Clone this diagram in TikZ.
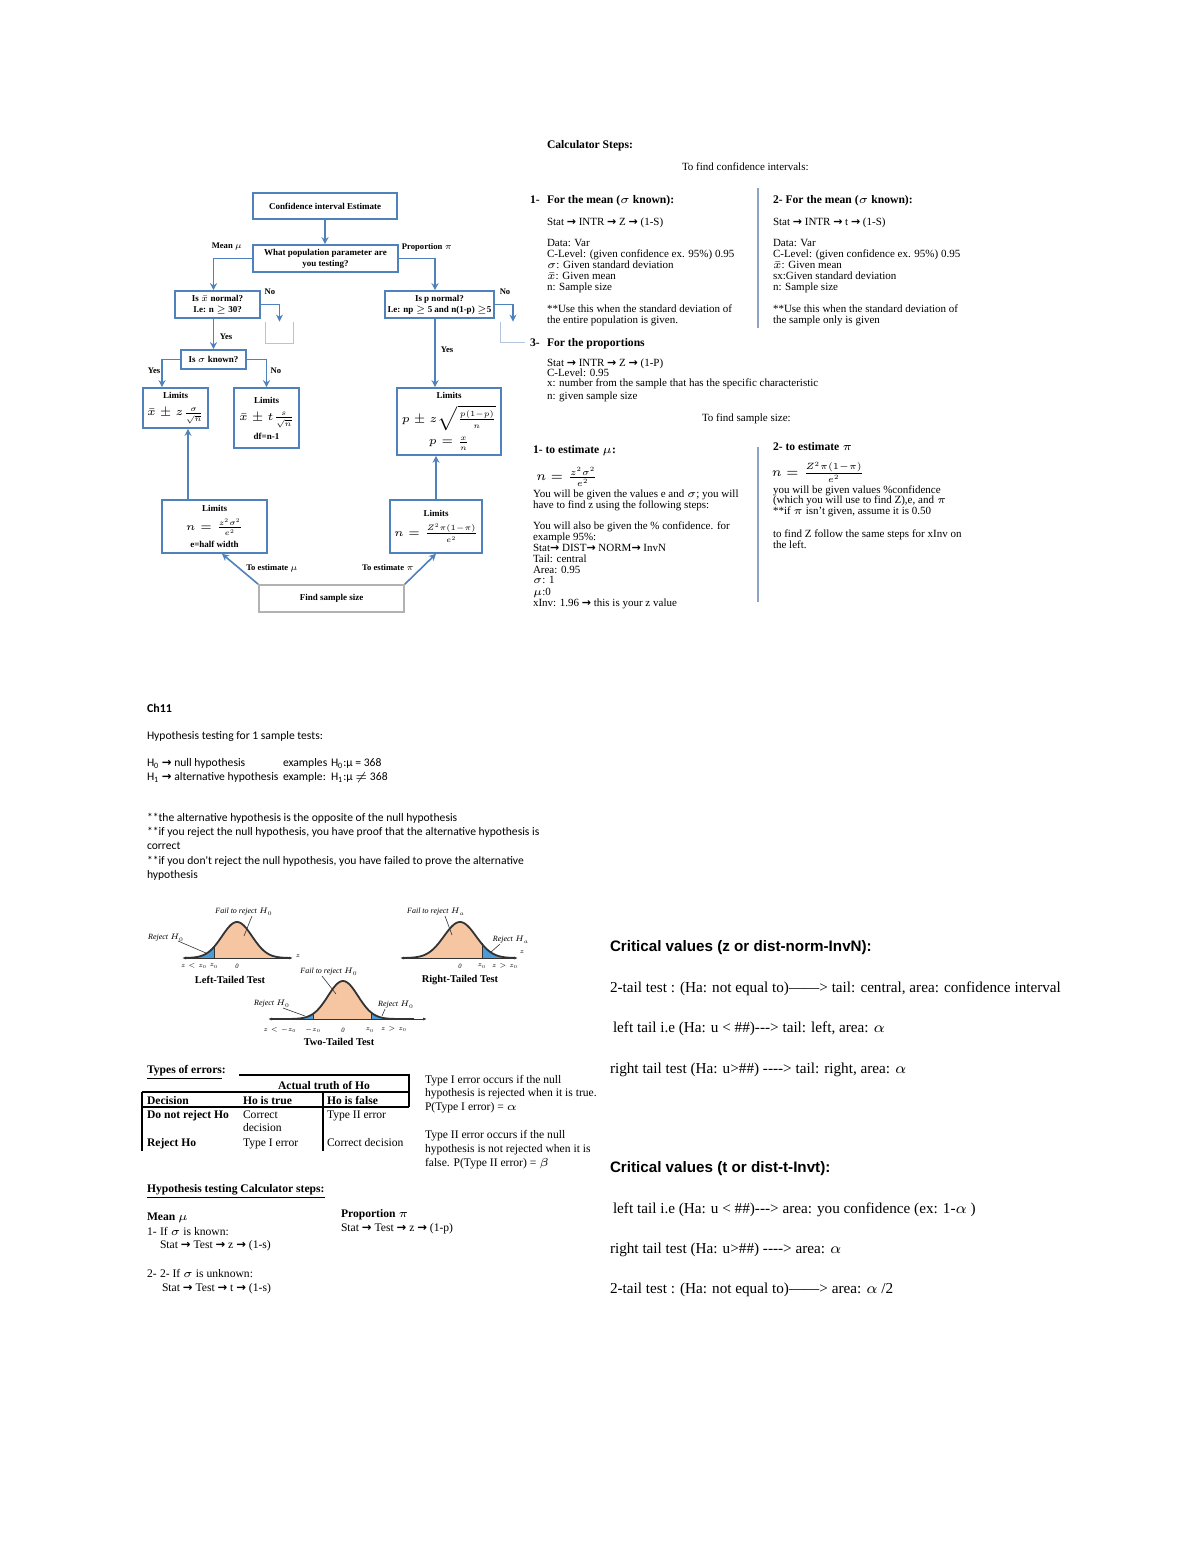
\RequirePackage{fix-cm}
\documentclass[tikz,border=0pt]{standalone}
\usepackage{fontspec}
\setmainfont{Liberation Serif}
\newfontfamily\calibf{Carlito}
\newfontfamily\arialf{Liberation Sans}
\newfontfamily\djvf{DejaVu Sans}
\usetikzlibrary{arrows.meta,calc}
\definecolor{boxblue}{HTML}{4F81BD}
\definecolor{divblue}{HTML}{8DA4C6}
\definecolor{lightbox}{HTML}{B3C5DD}
\definecolor{peach}{HTML}{F6C6A3}
\definecolor{tailblue}{HTML}{4C9BD6}
\definecolor{curvecol}{HTML}{333333}
\newcommand\myfs[2]{\fontsize{#1}{#2}\selectfont}
\newcommand\myra{{\djvf\bfseries →}}
\newcommand\bm[1]{{\myfs{5.6}{6}$#1$}}
\newcounter{lnc}
\newcommand\txtline[4][]{\stepcounter{lnc}\node[tl,#1] (t\arabic{lnc}) at (#2,#3) {#4};}
\tikzset{
  tl/.style={anchor=base west, inner sep=0, outer sep=0},
  cs/.style={font=\myfs{5.5}{6.5}},
  csb/.style={font=\bfseries\myfs{5.8}{6.5}},
  cal/.style={font=\calibf\myfs{5.8}{6.5}},
  calb/.style={font=\calibf\bfseries\myfs{6}{6.5}},
  crit/.style={font=\myfs{7.6}{9}},
  crith/.style={font=\arialf\bfseries\myfs{7.6}{9}},
  bell/.style={font=\itshape\myfs{4}{5}, inner sep=0},
  bella/.style={font=\itshape\myfs{3.3}{4}, inner sep=0},
  bellt/.style={font=\bfseries\myfs{5.2}{6}, inner sep=0},
  fbox/.style={draw=boxblue, line width=0.8pt, inner sep=0, align=center, font=\bfseries\myfs{4.5}{5.6}},
  arr/.style={draw=boxblue, line width=0.8pt, -{Stealth[length=3.5pt,width=3.5pt]}},
  flab/.style={font=\bfseries\myfs{4.3}{5}, inner sep=0},
  tab/.style={font=\myfs{5.8}{6.5}},
  tabb/.style={font=\bfseries\myfs{5.8}{6.5}},
}
\begin{document}
\begin{tikzpicture}[x=0.5pt,y=-0.5pt]
\useasboundingbox (0,0) rectangle (1200,1553);
\fill[white] (0,0) rectangle (1200,1553);

% ---------------- Flowchart ----------------
\node[fbox, minimum width=72pt, minimum height=13pt] (ci) at (325,206) {Confidence interval Estimate};
\node[fbox, minimum width=72.5pt, minimum height=13.5pt] (wp) at (325.5,258.5) {What population parameter are\\you testing?};
\node[fbox, minimum width=42.5pt, minimum height=13.5pt] (isx) at (217.5,304.5) {Is $\bar{x}$ normal?\\I.e: n $\geq$ 30?};
\node[fbox, minimum width=54.5pt, minimum height=13.5pt] (isp) at (439.5,304.5) {Is p normal?\\I.e: np $\geq$ 5 and n(1-p) $\geq$5};
\node[minimum width=13.5pt, minimum height=10.5pt, inner sep=0] (sb1) at (279.5,332.5) {};
\node[minimum width=12pt, minimum height=10pt, inner sep=0] (sb2) at (513,332) {};
\draw[lightbox, line width=0.8pt] (sb1.north west) -- (sb1.south west) -- (sb1.south east) -- (sb1.north east);
\draw[lightbox, line width=0.8pt] (sb2.north west) -- (sb2.south west) -- (sb2.south east);
\node[fbox, minimum width=32.5pt, minimum height=9.5pt] (isk) at (213.5,359.5) {Is $\sigma$ known?};
\node[fbox, minimum width=32.5pt, minimum height=20pt] (L1) at (175.5,408) {Limits\\[3pt]\bm{\bar{x}\pm z\frac{\sigma}{\sqrt{n}}}};
\node[fbox, minimum width=32.5pt, minimum height=30pt] (L2) at (266.5,418) {Limits\\[3pt]\bm{\bar{x}\pm t\frac{s}{\sqrt{n}}}\\[1.5pt]df=n-1};
\node[fbox, minimum width=52pt, minimum height=33.5pt] (L3) at (449,421.5) {Limits\\[2.5pt]\bm{p\pm z\sqrt{\frac{p(1-p)}{n}}}\\[2.5pt]\bm{p=\frac{x}{n}}};
\node[fbox, minimum width=52.5pt, minimum height=26.5pt] (LB1) at (214.5,526.5) {Limits\\[2.5pt]\bm{n=\frac{z^2\sigma^2}{e^2}}\\[1.5pt]e=half width};
\node[fbox, minimum width=46pt, minimum height=26.5pt] (LB2) at (436,526.5) {Limits\\[2.5pt]\bm{n=\frac{Z^2\pi(1-\pi)}{e^2}}};
\node[fbox, draw=gray!60, minimum width=72.5pt, minimum height=13.5pt] (fs) at (331.5,598.5) {Find sample size};

\coordinate (rx) at ($(L3.north)+(-14,0)$);
\coordinate (lx) at ($(L1.north)+(-13.5,0)$);
\coordinate (lxb) at ($(L1.south)+(12.5,0)$);
\draw[arr] (ci.south) -- (ci.south |- wp.north);
\draw[arr] (wp.west) -| (isk.north |- isx.north);
\draw[arr] (wp.east) -| (rx |- isp.north);
\draw[arr] (isx.east) -| (sb1.north);
\draw[arr] (isp.east) -| (sb2.north);
\draw[arr] (isx.south -| isk.north) -- (isk.north);
\draw[arr] (isk.west) -| (lx |- L1.north);
\draw[arr] (isk.east) -| (L2.north);
\draw[arr] (rx |- isp.south) -- (rx |- L3.north);
\draw[arr] (lxb |- LB1.north) -- (lxb |- L1.south);
\draw[arr] (LB2.north) -- (LB2.north |- L3.south);
\draw[arr] (fs.north west) -- ($(LB1.south)+(7.5,0)$);
\draw[arr] (fs.north east) -- (LB2.south);

\node[flab] (lmean) at (227,247) {Mean $\mu$};
\node[flab] (lprop) at (427,247) {Proportion $\pi$};
\node[flab] (lno1) at (270,292) {No};
\node[flab] (lno2) at (505,292) {No};
\node[flab] (lyes1) at (226,337) {Yes};
\node[flab] (lyes2) at (154,371) {Yes};
\node[flab] (lno3) at (276,371) {No};
\node[flab] (lyes3) at (447,350) {Yes};
\node[flab] (lest1) at (272,568) {To estimate $\mu$};
\node[flab] (lest2) at (388,568) {To estimate $\pi$};

% ---------------- Calculator steps ----------------
\txtline[csb]{547}{148}{Calculator Steps:}
\txtline[cs]{682}{170}{To find confidence intervals:}
\txtline[csb]{530}{203}{1-}
\txtline[csb]{547}{203}{For the mean ($\sigma$ known):}
\txtline[cs]{547}{225}{Stat \myra{} INTR \myra{} Z \myra{} (1-S)}
\txtline[cs]{547}{246}{Data: Var}
\txtline[cs]{547}{257}{C-Level: (given confidence ex. 95\%) 0.95}
\txtline[cs]{547}{268}{$\sigma$: Given standard deviation}
\txtline[cs]{547}{279.5}{$\bar{x}$: Given mean}
\txtline[cs]{547}{290}{n: Sample size}
\txtline[cs]{547}{312}{**Use this when the standard deviation of}
\txtline[cs]{547}{323}{the entire population is given.}
\draw[divblue, line width=1pt] (758,188) -- (758,328);
\txtline[csb]{773}{203}{2- For the mean ($\sigma$ known):}
\txtline[cs]{773}{225}{Stat \myra{} INTR \myra{} t \myra{} (1-S)}
\txtline[cs]{773}{246}{Data: Var}
\txtline[cs]{773}{257}{C-Level: (given confidence ex. 95\%) 0.95}
\txtline[cs]{773}{268}{$\bar{x}$: Given mean}
\txtline[cs]{773}{279}{sx:Given standard deviation}
\txtline[cs]{773}{290}{n: Sample size}
\txtline[cs]{773}{312}{**Use this when the standard deviation of}
\txtline[cs]{773}{323}{the sample only is given}

\txtline[csb]{530}{346}{3-}
\txtline[csb]{547}{346}{For the proportions}
\txtline[cs]{547}{366}{Stat \myra{} INTR \myra{} Z \myra{} (1-P)}
\txtline[cs]{547}{376}{C-Level: 0.95}
\txtline[cs]{547}{386}{x: number from the sample that has the specific characteristic}
\txtline[cs]{547}{399}{n: given sample size}
\txtline[cs]{702}{421}{To find sample size:}

\txtline[csb]{533}{453}{1- to estimate $\mu$:}
\node[inner sep=0, font=\myfs{6.5}{8}] (f1) at (567,477) {$n=\frac{z^2\sigma^2}{e^2}$};
\txtline[cs]{533}{497}{You will be given the values e and $\sigma$; you will}
\txtline[cs]{533}{508}{have to find z using the following steps:}
\txtline[cs]{533}{529}{You will also be given the \% confidence. for}
\txtline[cs]{533}{540}{example 95\%:}
\txtline[cs]{533}{551}{Stat\myra{} DIST\myra{} NORM\myra{} InvN}
\txtline[cs]{533}{562}{Tail: central}
\txtline[cs]{533}{573}{Area: 0.95}
\txtline[cs]{533}{583}{$\sigma$: 1}
\txtline[cs]{533}{595}{$\mu$:0}
\txtline[cs]{533}{606}{xInv: 1.96 \myra{} this is your z value}
\draw[divblue, line width=1pt] (758,447) -- (758,602);
\txtline[csb]{773}{450}{2- to estimate $\pi$}
\node[inner sep=0, font=\myfs{6.5}{8}] (f2) at (818,472) {$n=\frac{Z^2\pi(1-\pi)}{e^2}$};
\txtline[cs]{773}{493}{you will be given values \%confidence}
\txtline[cs]{773}{503}{(which you will use to find Z),e, and $\pi$}
\txtline[cs]{773}{514}{**if $\pi$ isn't given, assume it is 0.50}
\txtline[cs]{773}{537}{to find Z follow the same steps for xInv on}
\txtline[cs]{773}{548}{the left.}

% ---------------- Ch11 ----------------
\txtline[calb]{147}{712}{Ch11}
\txtline[cal]{147}{739}{Hypothesis testing for 1 sample tests:}
\txtline[cal]{147}{766}{H\textsubscript{0} \myra{} null hypothesis}
\txtline[cal]{283}{766}{examples}
\txtline[cal]{331}{766}{H\textsubscript{0}:μ = 368}
\txtline[cal]{147}{780}{H\textsubscript{1} \myra{} alternative hypothesis}
\txtline[cal]{283}{780}{example:}
\txtline[cal]{331}{780}{H\textsubscript{1}:μ $\neq$ 368}
\txtline[cal]{147}{821}{**the alternative hypothesis is the opposite of the null hypothesis}
\txtline[cal]{147}{835}{**if you reject the null hypothesis, you have proof that the alternative hypothesis is}
\txtline[cal]{147}{849}{correct}
\txtline[cal]{147}{864}{**if you don't reject the null hypothesis, you have failed to prove the alternative}
\txtline[cal]{147}{878}{hypothesis}

% ---------------- Bell curves ----------------
% left-tailed
\fill[tailblue] (185,958) -- plot[domain=185:214,samples=30] (\x,{958-36*exp(-0.5*((\x-237)/15)*((\x-237)/15))}) -- (214,958) -- cycle;
\fill[peach] (214,958) -- plot[domain=214:290,samples=60] (\x,{958-36*exp(-0.5*((\x-237)/15)*((\x-237)/15))}) -- (290,958) -- cycle;
\draw[curvecol, line width=0.4pt] (214,958) -- (214,946.9);
\draw[curvecol, line width=0.9pt] plot[domain=185:290,samples=90] (\x,{958-36*exp(-0.5*((\x-237)/15)*((\x-237)/15))});
\draw[curvecol, line width=0.5pt, {Latex[length=2pt]}-{Latex[length=2pt]}] (182,958) -- (293,958);
\node[bell] (b1) at (244,912) {Fail to reject $H_0$};
\node[bell] (b2) at (166,938) {Reject $H_0$};
\draw[curvecol, line width=0.3pt] (252,916) -- (244,936);
\draw[curvecol, line width=0.3pt] (178,941) -- (206,953);
\node[bella] (b3) at (194,966) {$z<z_0$};
\node[bella] (b4) at (214,966) {$z_0$};
\node[bella] (b5) at (237,966) {0};
\node[bella] (b6) at (298,956) {$z$};
\node[bellt] (b7) at (230,980) {Left-Tailed Test};
% right-tailed
\fill[peach] (404,958) -- plot[domain=404:482,samples=60] (\x,{958-36*exp(-0.5*((\x-460)/16)*((\x-460)/16))}) -- (482,958) -- cycle;
\fill[tailblue] (482,958) -- plot[domain=482:515,samples=30] (\x,{958-36*exp(-0.5*((\x-460)/16)*((\x-460)/16))}) -- (515,958) -- cycle;
\draw[curvecol, line width=0.4pt] (482,958) -- (482,942.5);
\draw[curvecol, line width=0.9pt] plot[domain=404:515,samples=90] (\x,{958-36*exp(-0.5*((\x-460)/16)*((\x-460)/16))});
\draw[curvecol, line width=0.5pt, {Latex[length=2pt]}-{Latex[length=2pt]}] (400,958) -- (518,958);
\node[bell] (b8) at (436,912) {Fail to reject $H_a$};
\node[bell] (b9) at (511,940) {Reject $H_a$};
\draw[curvecol, line width=0.3pt] (445,916) -- (452,935);
\draw[curvecol, line width=0.3pt] (500,944) -- (491,952);
\node[bella] (b10) at (460,966) {0};
\node[bella] (b11) at (482,966) {$z_0$};
\node[bella] (b12) at (505,966) {$z>z_0$};
\node[bella] (b13) at (522,952) {$z$};
\node[bellt] (b14) at (460,980) {Right-Tailed Test};
% two-tailed
\fill[tailblue] (272,1019) -- plot[domain=272:313,samples=30] (\x,{1019-38*exp(-0.5*((\x-343)/15)*((\x-343)/15))}) -- (313,1019) -- cycle;
\fill[peach] (313,1019) -- plot[domain=313:371,samples=60] (\x,{1019-38*exp(-0.5*((\x-343)/15)*((\x-343)/15))}) -- (371,1019) -- cycle;
\fill[tailblue] (371,1019) -- plot[domain=371:414,samples=30] (\x,{1019-38*exp(-0.5*((\x-343)/15)*((\x-343)/15))}) -- (414,1019) -- cycle;
\draw[curvecol, line width=0.4pt] (313,1019) -- (313,1013.5) (371,1019) -- (371,1012.5);
\draw[curvecol, line width=0.9pt] plot[domain=272:414,samples=110] (\x,{1019-38*exp(-0.5*((\x-343)/15)*((\x-343)/15))});
\draw[curvecol, line width=0.5pt, {Latex[length=2pt]}-{Latex[length=2pt]}] (268,1019) -- (427,1019);
\node[bell] (b15) at (329,972) {Fail to reject $H_0$};
\node[bell] (b16) at (272,1004) {Reject $H_0$};
\node[bell] (b17) at (396,1005) {Reject $H_0$};
\draw[curvecol, line width=0.3pt] (322,976) -- (336,994);
\draw[curvecol, line width=0.3pt] (283,1008) -- (305,1016);
\draw[curvecol, line width=0.3pt] (385,1009) -- (382,1016);
\node[bella] (b18) at (280,1030) {$z<-z_0$};
\node[bella] (b19) at (313,1030) {$-z_0$};
\node[bella] (b20) at (343,1030) {0};
\node[bella] (b21) at (370,1030) {$z_0$};
\node[bella] (b22) at (394,1029) {$z>z_0$};
\node[bellt] (b23) at (339,1042) {Two-Tailed Test};

% ---------------- Types of errors ----------------
\txtline[tabb]{147}{1073}{\underline{Types of errors}:}
\draw[line width=0.6pt] (239,1075) -- (409,1075) -- (409,1107);
\node[tabb, inner sep=0] (th) at (324,1085) {Actual truth of Ho};
\draw[line width=0.6pt] (142,1092) -- (409,1092);
\draw[line width=0.6pt] (142,1107) -- (409,1107);
\draw[line width=0.6pt] (142,1092) -- (142,1151);
\draw[line width=0.6pt] (323,1092) -- (323,1151);
\txtline[tabb]{147}{1104}{Decision}
\txtline[tabb]{243}{1104}{Ho is true}
\txtline[tabb]{327}{1104}{Ho is false}
\txtline[tabb]{147}{1118}{Do not reject Ho}
\txtline[tab]{243}{1118}{Correct}
\txtline[tab]{243}{1131}{decision}
\txtline[tab]{327}{1118}{Type II error}
\txtline[tabb]{147}{1146}{Reject Ho}
\txtline[tab]{243}{1146}{Type I error}
\txtline[tab]{327}{1146}{Correct decision}
\txtline[tab]{425}{1083}{Type I error occurs if the null}
\txtline[tab]{425}{1096}{hypothesis is rejected when it is true.}
\txtline[tab]{425}{1110}{P(Type I error) = $\alpha$}
\txtline[tab]{425}{1138}{Type II error occurs if the null}
\txtline[tab]{425}{1152}{hypothesis is not rejected when it is}
\txtline[tab]{425}{1166}{false. P(Type II error) = $\beta$}

% ---------------- Hypothesis testing calculator steps ----------------
\txtline[tabb]{147}{1192}{\underline{Hypothesis testing Calculator steps:}}
\txtline[tabb]{147}{1220}{Mean $\mu$}
\txtline[tab]{147}{1235}{1-}
\txtline[tab]{160}{1235}{If $\sigma$ is known:}
\txtline[tab]{160}{1248}{Stat \myra{} Test \myra{} z \myra{} (1-s)}
\txtline[tab]{147}{1277}{2-}
\txtline[tab]{160}{1277}{2- If $\sigma$ is unknown:}
\txtline[tab]{162}{1291}{Stat \myra{} Test \myra{} t \myra{} (1-s)}
\txtline[tabb]{341}{1217}{Proportion $\pi$}
\txtline[tab]{341}{1231}{Stat \myra{} Test \myra{} z \myra{} (1-p)}

% ---------------- Critical values ----------------
\txtline[crith]{610}{951}{Critical values (z or dist-norm-InvN):}
\txtline[crit]{610}{992}{2-tail test : (Ha: not equal to)------> tail: central, area: confidence interval}
\txtline[crit]{613}{1032}{left tail i.e (Ha: u < \#\#)-{}-{}-> tail: left, area: $\alpha$}
\txtline[crit]{610}{1073}{right tail test (Ha: u>\#\#) -{}-{}-{}-> tail: right, area: $\alpha$}
\txtline[crith]{610}{1172}{Critical values (t or dist-t-Invt):}
\txtline[crit]{613}{1213}{left tail i.e (Ha: u < \#\#)-{}-{}-> area: you confidence (ex: 1-$\alpha$ )}
\txtline[crit]{610}{1253}{right tail test (Ha: u>\#\#) -{}-{}-{}-> area: $\alpha$}
\txtline[crit]{610}{1293}{2-tail test : (Ha: not equal to)------> area: $\alpha$ /2}
\end{tikzpicture}
\end{document}
